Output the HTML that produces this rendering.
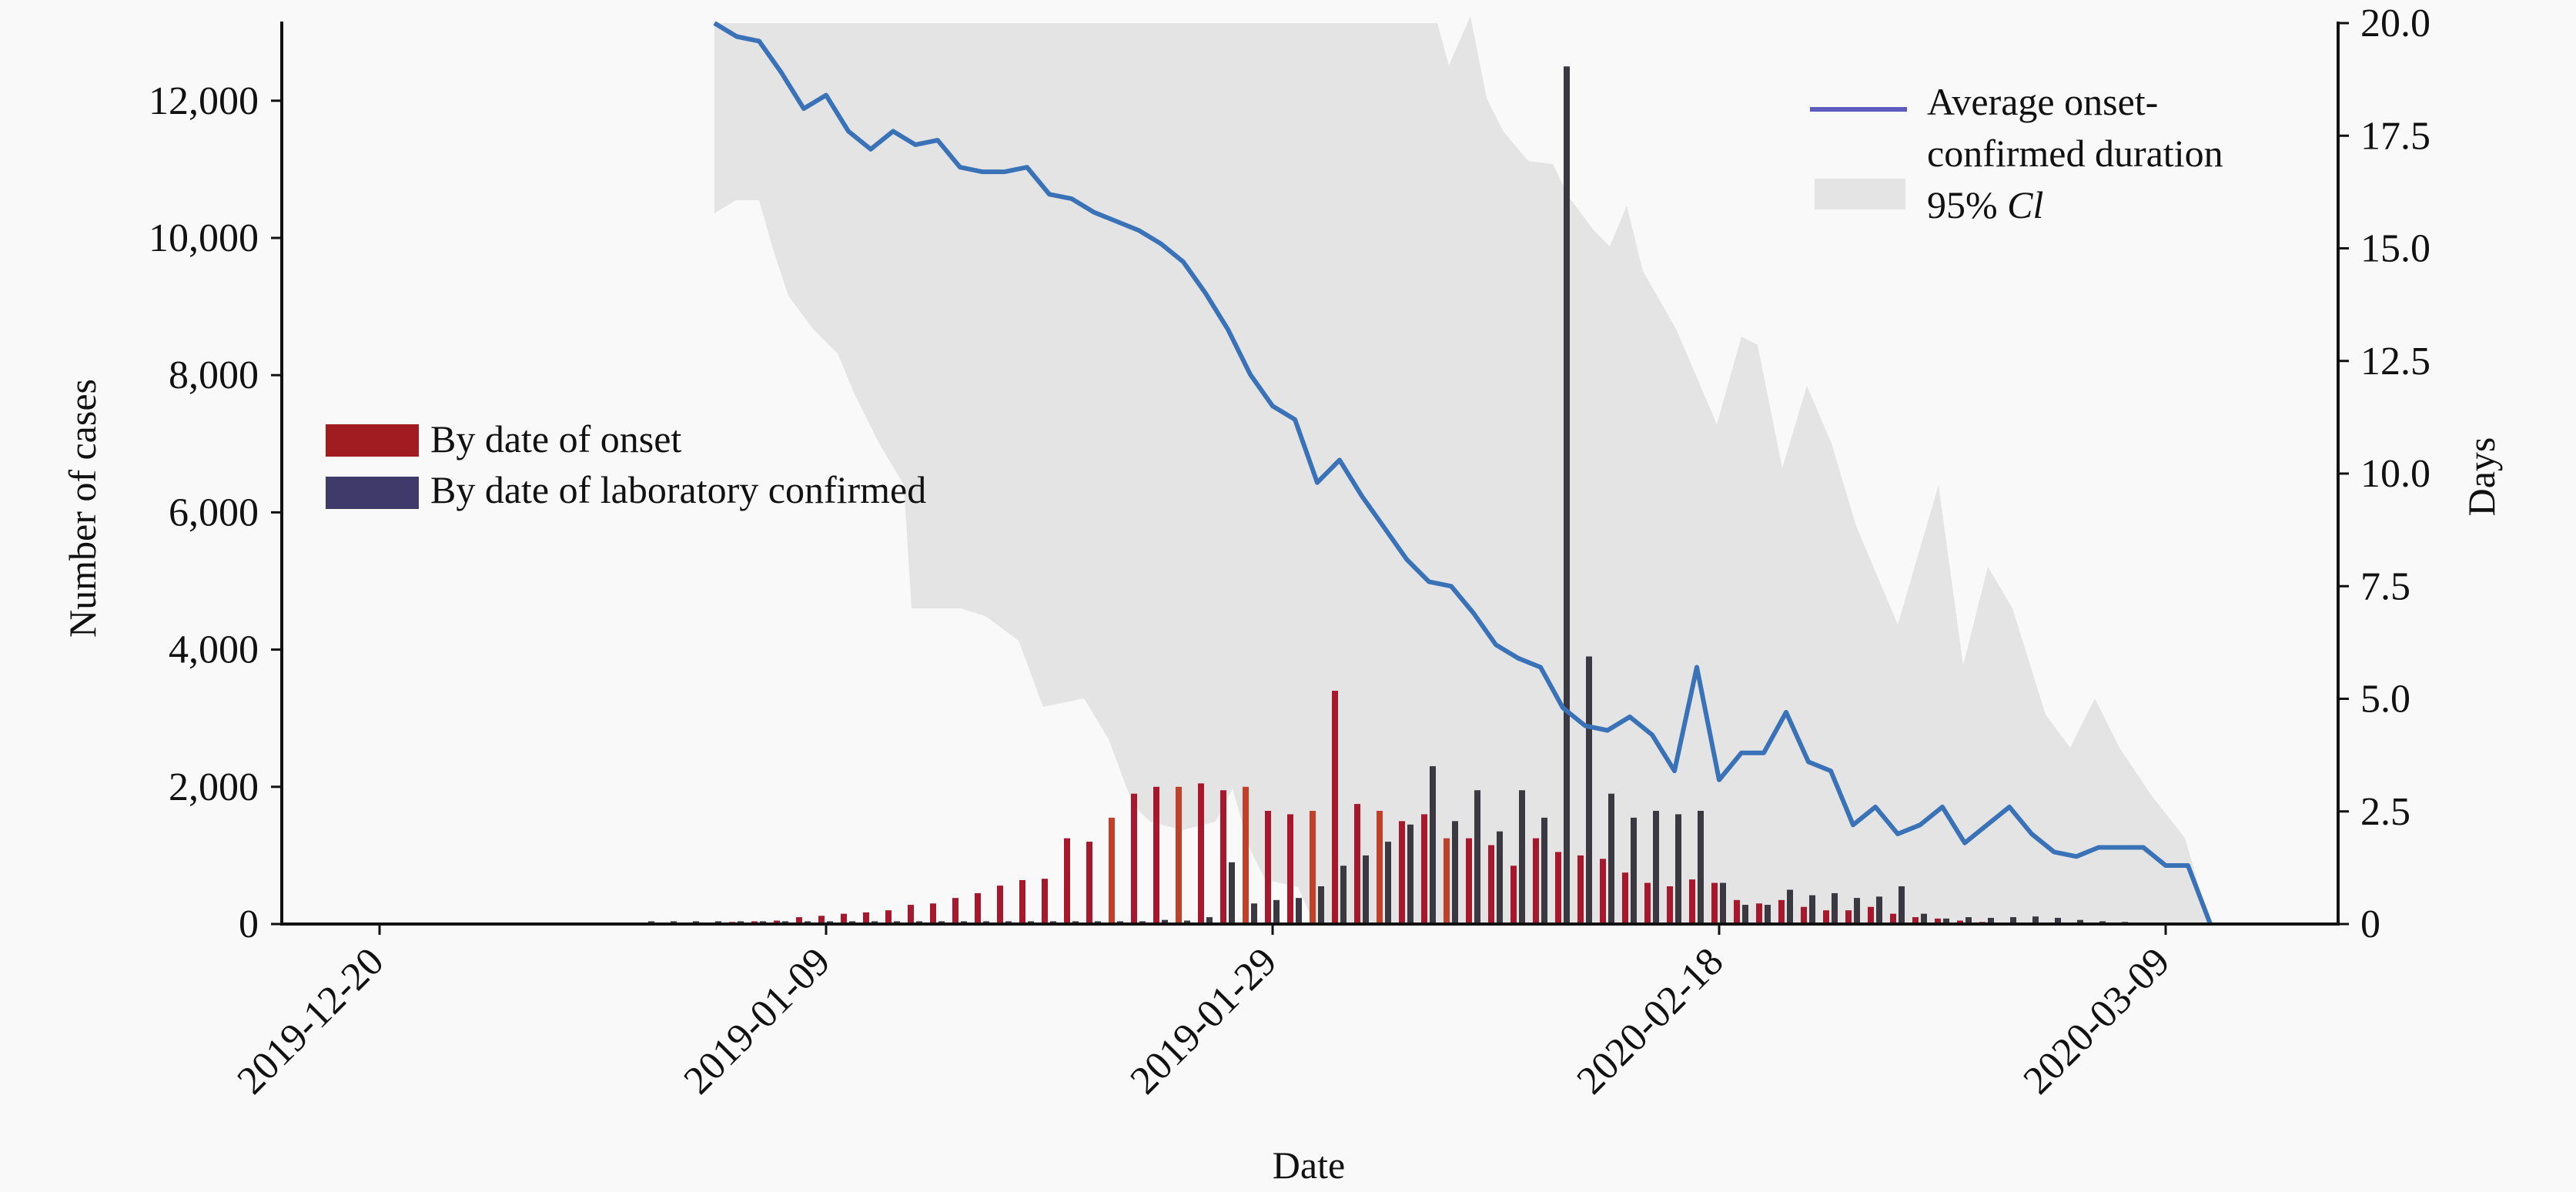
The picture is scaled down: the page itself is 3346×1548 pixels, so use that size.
<!DOCTYPE html>
<html><head><meta charset="utf-8"><style>
html,body{margin:0;padding:0;background:#f9f9f9;}
svg{display:block;font-family:"Liberation Serif",serif;}
</style></head><body>
<svg id="s" width="3346" height="1548" viewBox="0 0 3346 1548" xmlns="http://www.w3.org/2000/svg">
<rect width="3346" height="1548" fill="#f9f9f9"/>
<g id="band"></g><g id="bars"></g><g id="line"></g>
<g stroke="#111" stroke-width="4" fill="none">
<line x1="366" y1="28" x2="366" y2="1201"/>
<line x1="364" y1="1200" x2="3039" y2="1200"/>
<line x1="3037" y1="28" x2="3037" y2="1202"/>
</g>
<g id="ticks" stroke="#111" stroke-width="3"></g>
<g id="labels" font-size="52" fill="#111"></g>
<text x="124" y="660" font-size="50" fill="#111" text-anchor="middle" transform="rotate(-90 124 660)">Number of cases</text>
<text x="3240" y="619" font-size="50" fill="#111" text-anchor="middle" transform="rotate(-90 3240 619)">Days</text>
<text x="1700" y="1530" font-size="50" fill="#111" text-anchor="middle">Date</text>
<rect x="423" y="551" width="121" height="42" fill="#a01c20"/>
<text x="559" y="587" font-size="50" fill="#111">By date of onset</text>
<rect x="423" y="619" width="121" height="42" fill="#3f3a6a"/>
<text x="559" y="653" font-size="50" fill="#111">By date of laboratory confirmed</text>
<line x1="2351" y1="142" x2="2477" y2="142" stroke="#5b5bc0" stroke-width="6"/>
<text x="2503" y="149" font-size="50" fill="#111">Average onset-</text>
<text x="2503" y="216" font-size="50" fill="#111">confirmed duration</text>
<rect x="2357" y="232" width="118" height="40" fill="#e4e4e4"/>
<text x="2503" y="283" font-size="50" fill="#111">95% <tspan font-style="italic">Cl</tspan></text>
</svg>
<script>
var NS="http://www.w3.org/2000/svg";
function el(p,t,a,txt){var e=document.createElementNS(NS,t);for(var k in a)e.setAttribute(k,a[k]);if(txt!=null)e.textContent=txt;document.getElementById(p).appendChild(e);return e;}
var S=2.134;
function X(d){return 493+29*d;}
function YC(v){return 1200-v*0.0891;}
function YD(v){return 1200-v*58.5;}
var up=[[435,14],[875,14],[882,40],[895,10],[905,60],[915,80],[930,98],[945,100],[955,120],[970,140],[980,150],[990,125],[1000,165],[1020,200],[1045,258],[1060,205],[1070,210],[1085,285],[1100,235],[1115,270],[1130,320],[1155,380],[1180,295],[1195,405],[1210,345],[1225,370],[1245,435],[1260,455],[1275,425],[1290,455],[1310,485],[1330,510],[1345,562]];
var lo=[[800,562],[790,540],[770,535],[760,515],[750,480],[740,500],[720,505],[700,500],[690,490],[675,450],[660,425],[635,430],[620,390],[600,375],[585,370],[555,370],[550,295],[535,270],[520,240],[510,215],[495,200],[480,180],[470,150],[462,122],[448,122],[435,130]];
var pts=up.concat(lo).map(function(p){return (p[0]*S).toFixed(0)+","+(p[1]*S).toFixed(0);}).join(" ");
el("band","polygon",{points:pts,fill:"#e4e4e4"});
var onv=[10,10,20,20,30,40,50,100,120,150,170,200,280,300,380,450,560,640,660,1250,1200,1550,1900,2000,2000,2050,1950,2000,1650,1600,1650,3400,1750,1650,1500,1600,1250,1250,1150,850,1250,1050,1000,950,750,600,550,650,600,350,300,350,250,200,200,250,150,100,80,50,30,20,20,10,10,10,5,5];
var cf=[];for(var i=12;i<=34;i++)cf.push(40);
cf=cf.concat([60,50,100,900,300,350,380,550,850,1000,1200,1450,2300,1500,1950,1350,1950,1550,12500,3900,1900,1550,1650,1600,1650,600,280,280,500,420,450,380,400,550,150,80,100,90,100,110,90,60,40,30,20]);
for(var i=0;i<onv.length;i++){var d=12+i,v=onv[i];if(v>0)el("bars","rect",{x:X(d)-10,y:YC(v),width:8,height:v*0.0891,fill:(v>1000&&d%3==0)?"#c0402a":"#a8182c"});}
for(var i=0;i<cf.length;i++){var d=12+i,v=cf[i];if(v>0)el("bars","rect",{x:X(d)+1,y:YC(v),width:8,height:v*0.0891,fill:"#3a3840"});}
var ld=[20.0,19.7,19.6,18.9,18.1,18.4,17.6,17.2,17.6,17.3,17.4,16.8,16.7,16.7,16.8,16.2,16.1,15.8,15.6,15.4,15.1,14.7,14.0,13.2,12.2,11.5,11.2,9.8,10.3,9.5,8.8,8.1,7.6,7.5,6.9,6.2,5.9,5.7,4.8,4.4,4.3,4.6,4.2,3.4,5.7,3.2,3.8,3.8,4.7,3.6,3.4,2.2,2.6,2.0,2.2,2.6,1.8,2.2,2.6,2.0,1.6,1.5,1.7,1.7,1.7,1.3,1.3,0];
var lp=ld.map(function(v,i){return X(15+i)+","+YD(v).toFixed(1);}).join(" ");
el("line","polyline",{points:lp,fill:"none",stroke:"#3a72b8","stroke-width":6,"stroke-linejoin":"round"});
for(var k=0;k<=6;k++){var y=YC(k*2000);el("ticks","line",{x1:352,y1:y,x2:366,y2:y});
el("labels","text",{x:336,y:y+17,"text-anchor":"end"},k==0?"0":(k*2)+",000");}
for(var k=0;k<=8;k++){var y=YD(k*2.5);el("ticks","line",{x1:3037,y1:y,x2:3051,y2:y});
el("labels","text",{x:3066,y:y+17},k==0?"0":(k*2.5).toFixed(1));}
var dl=["2019-12-20","2019-01-09","2019-01-29","2020-02-18","2020-03-09"];
for(var k=0;k<5;k++){var x=X(k*20);el("ticks","line",{x1:x,y1:1200,x2:x,y2:1214});
el("labels","text",{x:x+8,y:1252,"text-anchor":"end",transform:"rotate(-45 "+(x+8)+" 1252)"},dl[k]);}
</script>
</body></html>
